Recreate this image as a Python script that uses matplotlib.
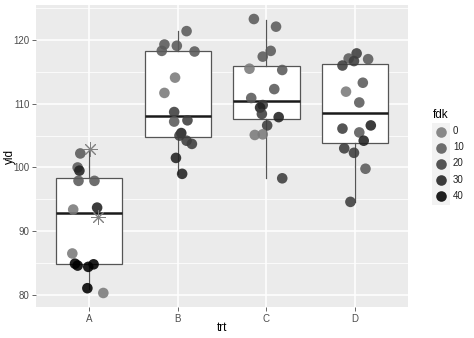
import numpy as np
import matplotlib
matplotlib.use("Agg")
import matplotlib.pyplot as plt
from matplotlib.patches import Rectangle

plt.rcParams['font.family'] = ['Liberation Sans', 'DejaVu Sans']

# ---- data -------------------------------------------------------------
categories = ["A", "B", "C", "D"]

yld_A = [102.2, 100.0, 99.5, 97.9, 97.9, 93.4, 93.7, 86.5, 84.9, 84.6, 84.4, 84.8, 81.05, 80.3]
fdk_A = [10, 10, 30, 10, 10, 0, 30, 0, 40, 40, 40, 40, 40, 0]
jit_A = [-0.10, -0.13, -0.11, -0.12, 0.06, -0.18, 0.09, -0.19, -0.16, -0.13, -0.01, 0.05, -0.02, 0.16]

yld_B = [121.4, 119.3, 119.1, 118.3, 118.2, 114.1, 111.7, 108.7, 107.2, 107.4, 105.4, 105.0, 104.2, 103.7, 101.5, 99.0]
fdk_B = [10, 10, 10, 10, 10, 0, 0, 20, 10, 20, 30, 20, 20, 20, 30, 30]
jit_B = [0.10, -0.15, -0.01, -0.18, 0.19, -0.03, -0.15, -0.04, -0.04, 0.11, 0.04, 0.02, 0.10, 0.16, -0.02, 0.05]

yld_C = [123.3, 122.1, 118.3, 117.4, 115.5, 115.3, 112.3, 110.9, 109.8, 109.4, 108.4, 107.9, 106.6, 105.1, 105.2, 98.3]
fdk_C = [10, 10, 10, 10, 0, 10, 10, 10, 20, 30, 20, 30, 20, 0, 0, 20]
jit_C = [-0.14, 0.11, 0.05, -0.04, -0.19, 0.18, 0.09, -0.17, -0.04, -0.07, -0.05, 0.14, 0.01, -0.13, -0.04, 0.18]

yld_D = [117.9, 117.1, 116.7, 117.0, 116.0, 113.3, 111.9, 110.2, 106.1, 105.5, 106.6, 104.2, 103.0, 102.3, 99.8, 94.6]
fdk_D = [20, 10, 20, 10, 20, 10, 0, 10, 20, 10, 30, 30, 20, 20, 10, 20]
jit_D = [0.02, -0.07, -0.01, 0.15, -0.14, 0.09, -0.10, 0.05, -0.14, 0.05, 0.18, 0.10, -0.12, -0.01, 0.12, -0.05]

# box statistics per group
box_q1 = [84.8, 104.8, 107.6, 103.9]
box_med = [92.8, 108.0, 110.5, 108.5]
box_q3 = [98.4, 118.3, 116.0, 116.2]
box_lo = [81.0, 99.0, 98.4, 94.6]
box_hi = [102.9, 121.4, 123.2, 116.2]

# starred points in group A
star_jit = [0.01, 0.10]
star_yld = [102.9, 92.2]

fdk_levels = [0, 10, 20, 30, 40]
y_ticks = [80, 90, 100, 110, 120]

# ---- colour scale (grey -> black, interpolated in lightness) -----------
def lstar_to_gray(L):
    Y = ((L + 16) / 116) ** 3 if L > 8 else L / 903.3
    g = 12.92 * Y if Y <= 0.0031308 else 1.055 * Y ** (1 / 2.4) - 0.055
    return (g, g, g)

def srgb_to_lstar(v):
    v = v / 255.0
    Y = v / 12.92 if v <= 0.04045 else ((v + 0.055) / 1.055) ** 2.4
    return 116 * Y ** (1 / 3) - 16 if Y > 0.008856 else 903.3 * Y

L_low = srgb_to_lstar(0x7a)
L_high = 0.0

def fdk_colour(v):
    t = (v - 0) / 40.0
    return lstar_to_gray(L_low + (L_high - L_low) * t)

ALPHA = 0.88

# ---- figure -----------------------------------------------------------
W, H = 474, 338
fig = plt.figure(figsize=(W / 100, H / 100), dpi=100)
ax = fig.add_axes([36 / W, 1 - 307 / H, (408 - 36) / W, (307 - 5) / H])
ax.set_facecolor("#EBEBEB")

ax.set_xlim(-0.6, 3.6)
ax.set_ylim(78.1, 125.5)

# grid
for y in [85, 95, 105, 115, 125]:
    ax.axhline(y, color="white", lw=0.55, zorder=0)
for y in y_ticks:
    ax.axhline(y, color="white", lw=1.1, zorder=0)
for i in range(len(categories)):
    ax.axvline(i, color="white", lw=1.1, zorder=0)

# boxplots
stats = []
for i in range(4):
    stats.append(dict(med=box_med[i], q1=box_q1[i], q3=box_q3[i],
                      whislo=box_lo[i], whishi=box_hi[i], fliers=[]))
ax.bxp(stats, positions=range(4), widths=0.75, patch_artist=True,
       showcaps=False, showfliers=False,
       boxprops=dict(facecolor="white", edgecolor="#555555", lw=0.9),
       whiskerprops=dict(color="#555555", lw=0.9),
       medianprops=dict(color="#1a1a1a", lw=1.8),
       zorder=2)

# jittered points
groups = [(yld_A, fdk_A, jit_A), (yld_B, fdk_B, jit_B),
          (yld_C, fdk_C, jit_C), (yld_D, fdk_D, jit_D)]
for i, (yv, fv, jv) in enumerate(groups):
    xs = np.array(jv) + i
    cols = [fdk_colour(f) for f in fv]
    ax.scatter(xs, yv, s=58, c=cols, alpha=ALPHA, linewidths=0, zorder=3)

# starred points
ax.scatter(np.array(star_jit) + 0, star_yld, marker=(8, 2, 0), s=100,
           color="#808080", linewidths=0.7, zorder=4)

# axes styling
for sp in ax.spines.values():
    sp.set_visible(False)
ax.set_xticks(range(4))
ax.set_xticklabels(categories)
ax.set_yticks(y_ticks)
ax.tick_params(axis="both", colors="#4d4d4d", labelsize=7, length=2.7,
               width=0.6, pad=2)
for lbl in ax.get_xticklabels() + ax.get_yticklabels():
    lbl.set_color("#4d4d4d")

# overlay in figure pixel coordinates: axis titles and the legend
lg = fig.add_axes([0, 0, 1, 1], facecolor="none")
lg.set_xlim(0, W)
lg.set_ylim(H, 0)
lg.axis("off")
lg.text(222, 328, "trt", fontsize=8.5, ha="center", va="center")
lg.text(10, 156, "yld", fontsize=8.5, ha="center", va="center", rotation=90)

lg.add_patch(Rectangle((432, 123), 18, 82, facecolor="#F2F2F2",
                       edgecolor="none", zorder=0))
lg.text(432.5, 115, "fdk", fontsize=8.5, ha="left", va="center")
key_y = [131.5, 147.5, 163.5, 180, 196]
for v, ky in zip(fdk_levels, key_y):
    lg.scatter([441], [ky], s=58, color=fdk_colour(v), alpha=ALPHA,
               linewidths=0, zorder=2)
    lg.text(453, ky, str(v), fontsize=7, ha="left", va="center",
            color="#222222", clip_on=False)

fig.savefig("out.png", dpi=100)
